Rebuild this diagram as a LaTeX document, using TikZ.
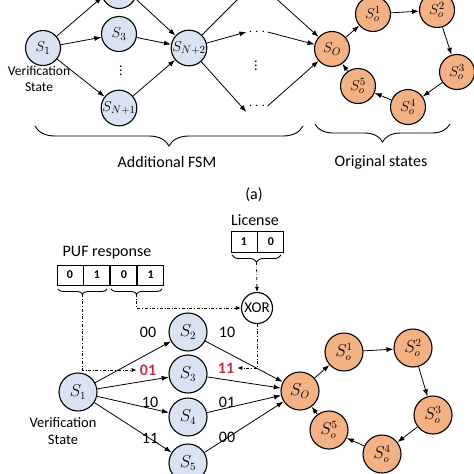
\documentclass[tikz,border=0pt]{standalone}
\usepackage{fontspec}
\setmainfont{Carlito}
\usetikzlibrary{arrows.meta,decorations.pathreplacing,calc}
\definecolor{sblue}{HTML}{DAE3F3}
\definecolor{sorange}{HTML}{F4B183}
\definecolor{lred}{HTML}{C8313C}
\begin{document}
\begin{tikzpicture}[x=1pt,y=-1pt,
  st/.style={circle,draw,line width=1.1pt,inner sep=0pt},
  bst/.style={st,fill=sblue,minimum size=35pt,font=\fontsize{15}{17}\selectfont},
  ost/.style={st,fill=sorange,minimum size=35pt,font=\fontsize{15}{17}\selectfont},
  bbst/.style={st,fill=sblue,minimum size=38pt,font=\fontsize{16}{18}\selectfont},
  bost/.style={st,fill=sorange,minimum size=38pt,font=\fontsize{16}{18}\selectfont},
  arr/.style={-{Latex[length=7pt,width=5pt]},line width=0.8pt},
  dd/.style={dash dot,line width=0.8pt,-{Latex[length=5pt,width=4pt]}},
  captxt/.style={font=\fontsize{16}{18}\selectfont,inner sep=0pt},
  lab/.style={font=\fontsize{16}{18}\selectfont,inner sep=1pt},
  vs/.style={align=center,inner sep=0pt},
  cell/.style={draw,line width=0.9pt,minimum width=26pt,minimum height=20pt,inner sep=0pt,font=\fontsize{12}{13}\selectfont\bfseries},
  br/.style={decorate,decoration={brace,mirror,amplitude=#1},line width=0.9pt},
  dotsn/.style={inner sep=0pt,font=\fontsize{14}{16}\selectfont},
]
\useasboundingbox (0,0) rectangle (474,474);
\clip (0,0) rectangle (474,474);

% ---------- (a) ----------
\node[bst] (S1) at (43,48) {$S_1$};
\node[bst] (S2) at (119,-9) {$S_2$};
\node[bst] (S3) at (119,34) {$S_3$};
\node[bst] (SN1) at (119,108) {$S_{N+1}$};
\node[bst] (SN2) at (189,48) {$S_{N+2}$};
\node[dotsn] (vd1) at (121,68) {$\vdots$};
\node[vs,font=\fontsize{13.5}{16}\selectfont] (vt1) at (39,79) {Verification\\State};

\node[dotsn] (dt) at (257,32) {$\cdots$};
\node[dotsn] (db) at (257,106) {$\cdots$};
\node[dotsn] (vd2) at (256,63) {$\vdots$};
\coordinate (ua) at (262,-25);
\coordinate (ub) at (250,-25);

\node[ost] (SO) at (332,49) {$S_O$};
\node[ost] (O1) at (373,14) {$S_o^1$};
\node[ost] (O2) at (437,10) {$S_o^2$};
\node[ost] (O3) at (457,72) {$S_o^3$};
\node[ost] (O4) at (408,107) {$S_o^4$};
\node[ost] (O5) at (358,86) {$S_o^5$};

\draw[arr] (S1) -- (S2.200);
\draw[arr] (S1) -- (S3);
\draw[arr] (S1) -- (SN1);
\draw[arr] (S2.-25) -- (SN2);
\draw[arr] (S3) -- (SN2);
\draw[arr] (SN1) -- (SN2);
\draw[arr] (SN2) -- (ua);
\draw[arr] (SN2) -- ([xshift=-2pt]dt.west);
\draw[arr] (SN2) -- ([xshift=-2pt,yshift=-6pt]db.west);
\draw[arr] (ub) -- (SO);
\draw[arr] ([xshift=2pt]dt.east) -- (SO);
\draw[arr] ([xshift=2pt]db.east) -- (SO);
\draw[arr] (SO) -- (O1);
\draw[arr] (O1) -- (O2);
\draw[arr] (O2) -- (O3);
\draw[arr] (O3) -- (O4);
\draw[arr] (O4) -- (O5);
\draw[arr] (O5) -- (SO);

\coordinate (bl1) at (35,126);
\coordinate (bl2) at (303,126);
\coordinate (br1) at (315,124);
\coordinate (br2) at (450,124);
\draw[br=20pt] (bl1) -- (bl2);
\draw[br=18pt] (br1) -- (br2);
\node[captxt] (tA) at (167,162) {Additional FSM};
\node[captxt] (tO) at (381,162) {Original states};
\node[captxt] (ta) at (254,195) {(a)};

% ---------- (b) ----------
\node[captxt] (tL) at (255,220) {License};
\node[cell,minimum height=21pt] (L1) at (244,241.5) {1};
\node[cell,minimum height=21pt,anchor=west] (L2) at (L1.east) {0};
\coordinate (lb1) at (232,255);
\coordinate (lb2) at (281,255);
\draw[br=7pt] (lb1) -- (lb2);
\coordinate (lbt) at (256.5,262);

\node[captxt] (tP) at (107,253) {PUF response};
\node[cell] (P1) at (70,275) {0};
\node[cell,anchor=west] (P2) at (P1.east) {1};
\node[cell,anchor=west] (P3) at (P2.east) {0};
\node[cell,anchor=west] (P4) at (P3.east) {1};
\coordinate (pa1) at (58,289);
\coordinate (pa2) at (107,289);
\coordinate (pc1) at (111,289);
\coordinate (pc2) at (162,289);
\draw[br=5pt] (pa1) -- (pa2);
\draw[br=5pt] (pc1) -- (pc2);
\coordinate (pat) at (82.5,294);
\coordinate (pct) at (136.5,294);

\node[st,minimum size=31pt,font=\fontsize{15}{17}\selectfont] (X) at (257,308) {XOR};

\node[bbst] (B1) at (78,392) {$S_1$};
\node[vs,font=\fontsize{14.5}{17}\selectfont] (vt2) at (63,431) {Verification\\State};
\node[bbst] (B2) at (188,332) {$S_2$};
\node[bbst] (B3) at (188,374) {$S_3$};
\node[bbst] (B4) at (188,417) {$S_4$};
\node[bbst] (B5) at (188,463) {$S_5$};
\node[bost] (BO) at (300,391) {$S_O$};
\node[bost] (BO1) at (344,352) {$S_o^1$};
\node[bost] (BO2) at (413,348) {$S_o^2$};
\node[bost] (BO3) at (433,415) {$S_o^3$};
\node[bost] (BO4) at (382,454) {$S_o^4$};
\node[bost] (BO5) at (329,430) {$S_o^5$};

\draw[arr] (B1) -- (B2);
\draw[arr] (B1) -- (B3);
\draw[arr] (B1) -- (B4);
\draw[arr] (B1) -- (B5);
\draw[arr] (B2) -- (BO);
\draw[arr] (B3) -- (BO);
\draw[arr] (B4) -- (BO);
\draw[arr] (B5) -- (BO);
\draw[arr] (BO) -- (BO1);
\draw[arr] (BO1) -- (BO2);
\draw[arr] (BO2) -- (BO3);
\draw[arr] (BO3) -- (BO4);
\draw[arr] (BO4) -- (BO5);
\draw[arr] (BO5) -- (BO);

\node[lab] (la) at (148,332) {00};
\node[lab,text=lred] (lb) at (148,370) {\bfseries 01};
\node[lab] (lc) at (150,402) {10};
\node[lab] (ld) at (150,438) {11};
\node[lab] (ra) at (227,332) {10};
\node[lab,text=lred] (rb) at (226,368) {\bfseries 11};
\node[lab] (rc) at (227,402) {01};
\node[lab] (rd) at (227,437) {00};

\draw[dd,shorten >=2pt] (pat) |- (lb.west);
\draw[dd] (pct) |- (X.west);
\draw[dd] (lbt) -- (X.north);
\draw[dd,shorten >=2pt] (X.south) |- (rb.east);
\end{tikzpicture}
\end{document}
